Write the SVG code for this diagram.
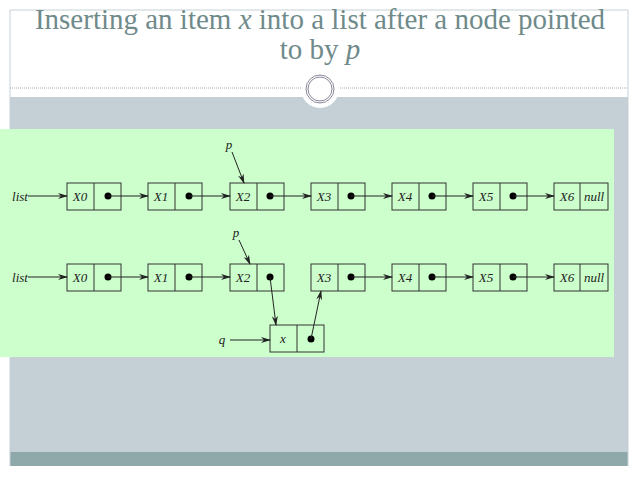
<svg xmlns="http://www.w3.org/2000/svg" width="638" height="478" viewBox="0 0 638 478">
<style>
.n{fill:none;stroke:#333;stroke-width:1}
.t{font-family:"Liberation Serif",serif;font-style:italic;font-size:13px;fill:#222;text-anchor:middle}
.h{font-family:"Liberation Serif","DejaVu Serif",serif;font-size:29px;fill:#6f8a8a;text-anchor:middle}
.c line{stroke:#222;stroke-width:1}
</style>
<defs><marker id="a" markerWidth="10" markerHeight="6" refX="9" refY="3" orient="auto" markerUnits="userSpaceOnUse"><path d="M0,0L10,3L0,6L3,3z" fill="#222"/></marker></defs>
<rect width="638" height="478" fill="#fff"/>
<rect x="10" y="97" width="618" height="355" fill="#c5d0d6"/>
<rect x="10" y="452" width="618" height="14" fill="#8fa9ab"/>
<line x1="10" y1="10" x2="628" y2="10" stroke="#c5d0d6"/>
<line x1="10" y1="10" x2="10" y2="466" stroke="#c5d0d6"/>
<line x1="628" y1="10" x2="628" y2="466" stroke="#c5d0d6"/>
<line x1="10" y1="88" x2="628" y2="88" stroke="#aab" stroke-dasharray="1,1"/>
<circle cx="320" cy="89" r="19" fill="#fff"/>
<circle cx="320" cy="89" r="14" fill="none" stroke="#889"/>
<circle cx="320" cy="89" r="12" fill="none" stroke="#889"/>
<text class="h" x="320" y="29">Inserting an item <tspan font-style="italic">x</tspan> into a list after a node pointed</text>
<text class="h" x="320" y="59">to by <tspan font-style="italic">p</tspan></text>
<rect x="0" y="129" width="614" height="228" fill="#ccffcc"/>
<g id="r1">
<g id="a0"><rect class="n" x="67" y="183" width="54" height="27"/><line class="n" x1="94" y1="183" x2="94" y2="210"/><text class="t" x="80" y="201">X0</text><circle cx="108" cy="196" r="3.5"/></g>
<g id="a1"><rect class="n" x="148" y="183" width="54" height="27"/><line class="n" x1="175" y1="183" x2="175" y2="210"/><text class="t" x="161" y="201">X1</text><circle cx="189" cy="196" r="3.5"/></g>
<g id="a2"><rect class="n" x="230" y="183" width="54" height="27"/><line class="n" x1="257" y1="183" x2="257" y2="210"/><text class="t" x="243" y="201">X2</text><circle cx="270" cy="196" r="3.5"/></g>
<g id="a3"><rect class="n" x="311" y="183" width="54" height="27"/><line class="n" x1="338" y1="183" x2="338" y2="210"/><text class="t" x="324" y="201">X3</text><circle cx="351" cy="196" r="3.5"/></g>
<g id="a4"><rect class="n" x="392" y="183" width="54" height="27"/><line class="n" x1="419" y1="183" x2="419" y2="210"/><text class="t" x="405" y="201">X4</text><circle cx="432" cy="196" r="3.5"/></g>
<g id="a5"><rect class="n" x="473" y="183" width="54" height="27"/><line class="n" x1="500" y1="183" x2="500" y2="210"/><text class="t" x="486" y="201">X5</text><circle cx="513" cy="196" r="3.5"/></g>
<g id="a6"><rect class="n" x="554" y="183" width="54" height="27"/><line class="n" x1="580" y1="183" x2="580" y2="210"/><text class="t" x="567" y="201">X6</text><text class="t" x="594" y="201">null</text></g>
</g>
<g id="r2">
<g id="b0"><rect class="n" x="67" y="264" width="54" height="27"/><line class="n" x1="94" y1="264" x2="94" y2="291"/><text class="t" x="80" y="282">X0</text><circle cx="108" cy="277" r="3.5"/></g>
<g id="b1"><rect class="n" x="148" y="264" width="54" height="27"/><line class="n" x1="175" y1="264" x2="175" y2="291"/><text class="t" x="161" y="282">X1</text><circle cx="189" cy="277" r="3.5"/></g>
<g id="b2"><rect class="n" x="230" y="264" width="54" height="27"/><line class="n" x1="257" y1="264" x2="257" y2="291"/><text class="t" x="243" y="282">X2</text><circle cx="270" cy="277" r="3.5"/></g>
<g id="b3"><rect class="n" x="311" y="264" width="54" height="27"/><line class="n" x1="338" y1="264" x2="338" y2="291"/><text class="t" x="324" y="282">X3</text><circle cx="351" cy="277" r="3.5"/></g>
<g id="b4"><rect class="n" x="392" y="264" width="54" height="27"/><line class="n" x1="419" y1="264" x2="419" y2="291"/><text class="t" x="405" y="282">X4</text><circle cx="432" cy="277" r="3.5"/></g>
<g id="b5"><rect class="n" x="473" y="264" width="54" height="27"/><line class="n" x1="500" y1="264" x2="500" y2="291"/><text class="t" x="486" y="282">X5</text><circle cx="513" cy="277" r="3.5"/></g>
<g id="b6"><rect class="n" x="554" y="264" width="54" height="27"/><line class="n" x1="580" y1="264" x2="580" y2="291"/><text class="t" x="567" y="282">X6</text><text class="t" x="594" y="282">null</text></g>
<g id="nx"><rect class="n" x="270" y="325" width="54" height="27"/><line class="n" x1="297" y1="325" x2="297" y2="352"/><text class="t" x="283" y="343">x</text><circle cx="311" cy="339" r="3.5"/></g>
</g>
<g id="labels">
<text class="t" x="20" y="201">list</text><text class="t" x="20" y="282">list</text>
<text class="t" x="229" y="149">p</text><text class="t" x="236" y="237">p</text><text class="t" x="222" y="344">q</text>
</g>
<g class="c">
<line x1="28" y1="196" x2="67" y2="196" marker-end="url(#a)"/>
<line x1="108" y1="196" x2="148" y2="196" marker-end="url(#a)"/>
<line x1="189" y1="196" x2="230" y2="196" marker-end="url(#a)"/>
<line x1="270" y1="196" x2="311" y2="196" marker-end="url(#a)"/>
<line x1="351" y1="196" x2="392" y2="196" marker-end="url(#a)"/>
<line x1="432" y1="196" x2="473" y2="196" marker-end="url(#a)"/>
<line x1="513" y1="196" x2="554" y2="196" marker-end="url(#a)"/>
<line x1="28" y1="277" x2="67" y2="277" marker-end="url(#a)"/>
<line x1="108" y1="277" x2="148" y2="277" marker-end="url(#a)"/>
<line x1="189" y1="277" x2="230" y2="277" marker-end="url(#a)"/>
<line x1="351" y1="277" x2="392" y2="277" marker-end="url(#a)"/>
<line x1="432" y1="277" x2="473" y2="277" marker-end="url(#a)"/>
<line x1="513" y1="277" x2="554" y2="277" marker-end="url(#a)"/>
<line x1="270" y1="277" x2="276" y2="325" marker-end="url(#a)"/>
<line x1="311" y1="339" x2="321" y2="291" marker-end="url(#a)"/>
<line x1="230" y1="340" x2="270" y2="340" marker-end="url(#a)"/>
<line x1="232" y1="152" x2="244" y2="183" marker-end="url(#a)"/>
<line x1="239" y1="240" x2="250" y2="264" marker-end="url(#a)"/>
</g>
</svg>
